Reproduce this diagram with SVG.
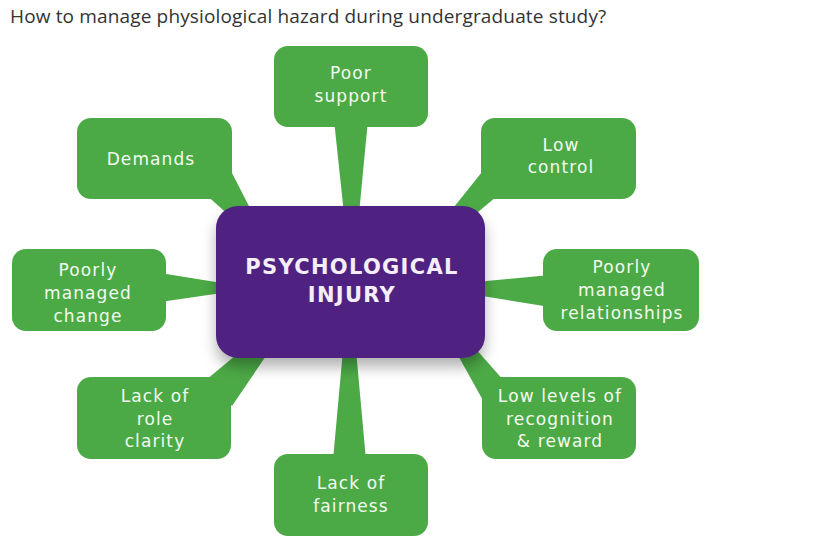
<svg xmlns="http://www.w3.org/2000/svg" width="835" height="556" viewBox="0 0 835 556">
<defs>
<style>
.title{font-family:"Open Sans","Liberation Sans",sans-serif;font-size:19px;letter-spacing:0.15px;fill:#333333}
.box{fill:#4caa46}
.tail{fill:#4caa46}
.lbl{font-family:"DejaVu Sans","Liberation Sans",sans-serif;font-size:17px;letter-spacing:1.1px;fill:#f2faf0;text-anchor:middle}
.hub{fill:#4f2482}
.hublbl{font-family:"DejaVu Sans","Liberation Sans",sans-serif;font-weight:bold;font-size:21px;letter-spacing:1.3px;fill:#f3eefa;text-anchor:middle}
</style>
<filter id="sh" x="-20%" y="-20%" width="140%" height="150%">
<feDropShadow dx="0" dy="9" stdDeviation="7" flood-color="#000000" flood-opacity="0.3"/>
</filter>
</defs>
<rect x="0" y="0" width="835" height="556" fill="#ffffff"/>
<text class="title" x="10" y="23">How to manage physiological hazard during undergraduate study?</text>

<g id="connectors">
<polygon class="tail" points="334,120 368,120 359,214 344,214"/>
<polygon class="tail" points="343,350 356,350 366,460 333,460"/>
<polygon class="tail" points="160,273 160,302 222,293 222,283"/>
<polygon class="tail" points="476,282 476,295 550,307 550,275"/>
<polygon class="tail" points="203,192 232,173 253,214 232,218"/>
<polygon class="tail" points="482,172 502,192 472,217 450,212"/>
<polygon class="tail" points="242,350 270,350 232,406 206,380"/>
<polygon class="tail" points="455,350 475,348 505,382 485,404"/>
</g>

<g id="n-poor-support">
<rect class="box" x="274" y="46" width="154" height="81" rx="14"/>
<text class="lbl" x="351" y="79">Poor</text>
<text class="lbl" x="351" y="102">support</text>
</g>
<g id="n-demands">
<rect class="box" x="77" y="118" width="155" height="81" rx="14"/>
<text class="lbl" x="151" y="165">Demands</text>
</g>
<g id="n-low-control">
<rect class="box" x="481" y="118" width="155" height="81" rx="14"/>
<text class="lbl" x="561" y="151">Low</text>
<text class="lbl" x="561" y="173">control</text>
</g>
<g id="n-change">
<rect class="box" x="12" y="249" width="154" height="82" rx="14"/>
<text class="lbl" x="88" y="276">Poorly</text>
<text class="lbl" x="88" y="299">managed</text>
<text class="lbl" x="88" y="322">change</text>
</g>
<g id="n-relationships">
<rect class="box" x="543" y="249" width="156" height="82" rx="14"/>
<text class="lbl" x="622" y="273">Poorly</text>
<text class="lbl" x="622" y="296">managed</text>
<text class="lbl" x="622" y="319">relationships</text>
</g>
<g id="n-role-clarity">
<rect class="box" x="77" y="377" width="154" height="82" rx="14"/>
<text class="lbl" x="155" y="402">Lack of</text>
<text class="lbl" x="155" y="425">role</text>
<text class="lbl" x="155" y="447">clarity</text>
</g>
<g id="n-recognition">
<rect class="box" x="482" y="377" width="154" height="82" rx="14"/>
<text class="lbl" x="560" y="402">Low levels of</text>
<text class="lbl" x="560" y="425">recognition</text>
<text class="lbl" x="560" y="447">&amp; reward</text>
</g>
<g id="n-fairness">
<rect class="box" x="274" y="454" width="154" height="82" rx="14"/>
<text class="lbl" x="351" y="489">Lack of</text>
<text class="lbl" x="351" y="512">fairness</text>
</g>
<g id="n-psychological-injury">
<rect class="hub" x="216" y="206" width="269" height="152" rx="22" filter="url(#sh)"/>
<text class="hublbl" x="352" y="274">PSYCHOLOGICAL</text>
<text class="hublbl" x="352" y="302">INJURY</text>
</g>
</svg>
